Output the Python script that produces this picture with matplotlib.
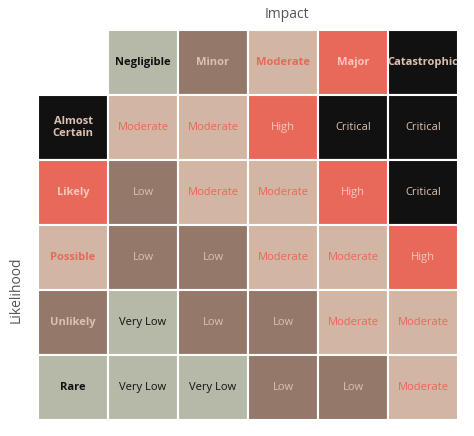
import matplotlib.pyplot as plt
from matplotlib.patches import Rectangle

plt.rcParams['font.family'] = ['Open Sans', 'DejaVu Sans']

impact = ['Negligible', 'Minor', 'Moderate', 'Major', 'Catastrophic']
likelihood = ['Almost\nCertain', 'Likely', 'Possible', 'Unlikely', 'Rare']
risk = [
    ['Moderate', 'Moderate', 'High', 'Critical', 'Critical'],
    ['Low', 'Moderate', 'Moderate', 'High', 'Critical'],
    ['Low', 'Low', 'Moderate', 'Moderate', 'High'],
    ['Very Low', 'Low', 'Low', 'Moderate', 'Moderate'],
    ['Very Low', 'Very Low', 'Low', 'Low', 'Moderate'],
]
# header levels: 0 grey, 1 brown, 2 tan, 3 red, 4 black
impact_level = [0, 1, 2, 3, 4]
likelihood_level = [4, 3, 2, 1, 0]
risk_level = {'Very Low': 0, 'Low': 1, 'Moderate': 2, 'High': 3, 'Critical': 4}

fills = ['#b6b9a8', '#94796b', '#d3b5a3', '#e8685a', '#111111']
texts = ['#111111', '#dcc1b0', '#e8685a', '#f3c9bc', '#dcc1b0']

fig = plt.figure(figsize=(4.74, 4.36), dpi=100)
ax = fig.add_axes([38 / 474, 16 / 436, 420 / 474, 390 / 436])
ax.set_xlim(0, 6)
ax.set_ylim(6, 0)
ax.axis('off')


def cell(col, row, level, label, bold=False):
    ax.add_patch(Rectangle((col, row), 1, 1, facecolor=fills[level],
                           edgecolor='white', linewidth=1.5))
    ax.text(col + 0.5, row + 0.5, label, ha='center', va='center',
            color=texts[level], fontsize=8,
            fontweight='bold' if bold else 'normal', linespacing=1.1)


for j, name in enumerate(impact):
    cell(j + 1, 0, impact_level[j], name, bold=True)
for i, name in enumerate(likelihood):
    cell(0, i + 1, likelihood_level[i], name, bold=True)
    for j, r in enumerate(risk[i]):
        cell(j + 1, i + 1, risk_level[r], r)

fig.text(287 / 474, 1 - 14 / 436, 'Impact', ha='center', va='center',
         fontsize=10, color='#555555')
fig.text(16 / 474, 1 - 290 / 436, 'Likelihood', ha='center', va='center',
         rotation=90, fontsize=10, color='#555555')

fig.savefig('out.png', dpi=100)
